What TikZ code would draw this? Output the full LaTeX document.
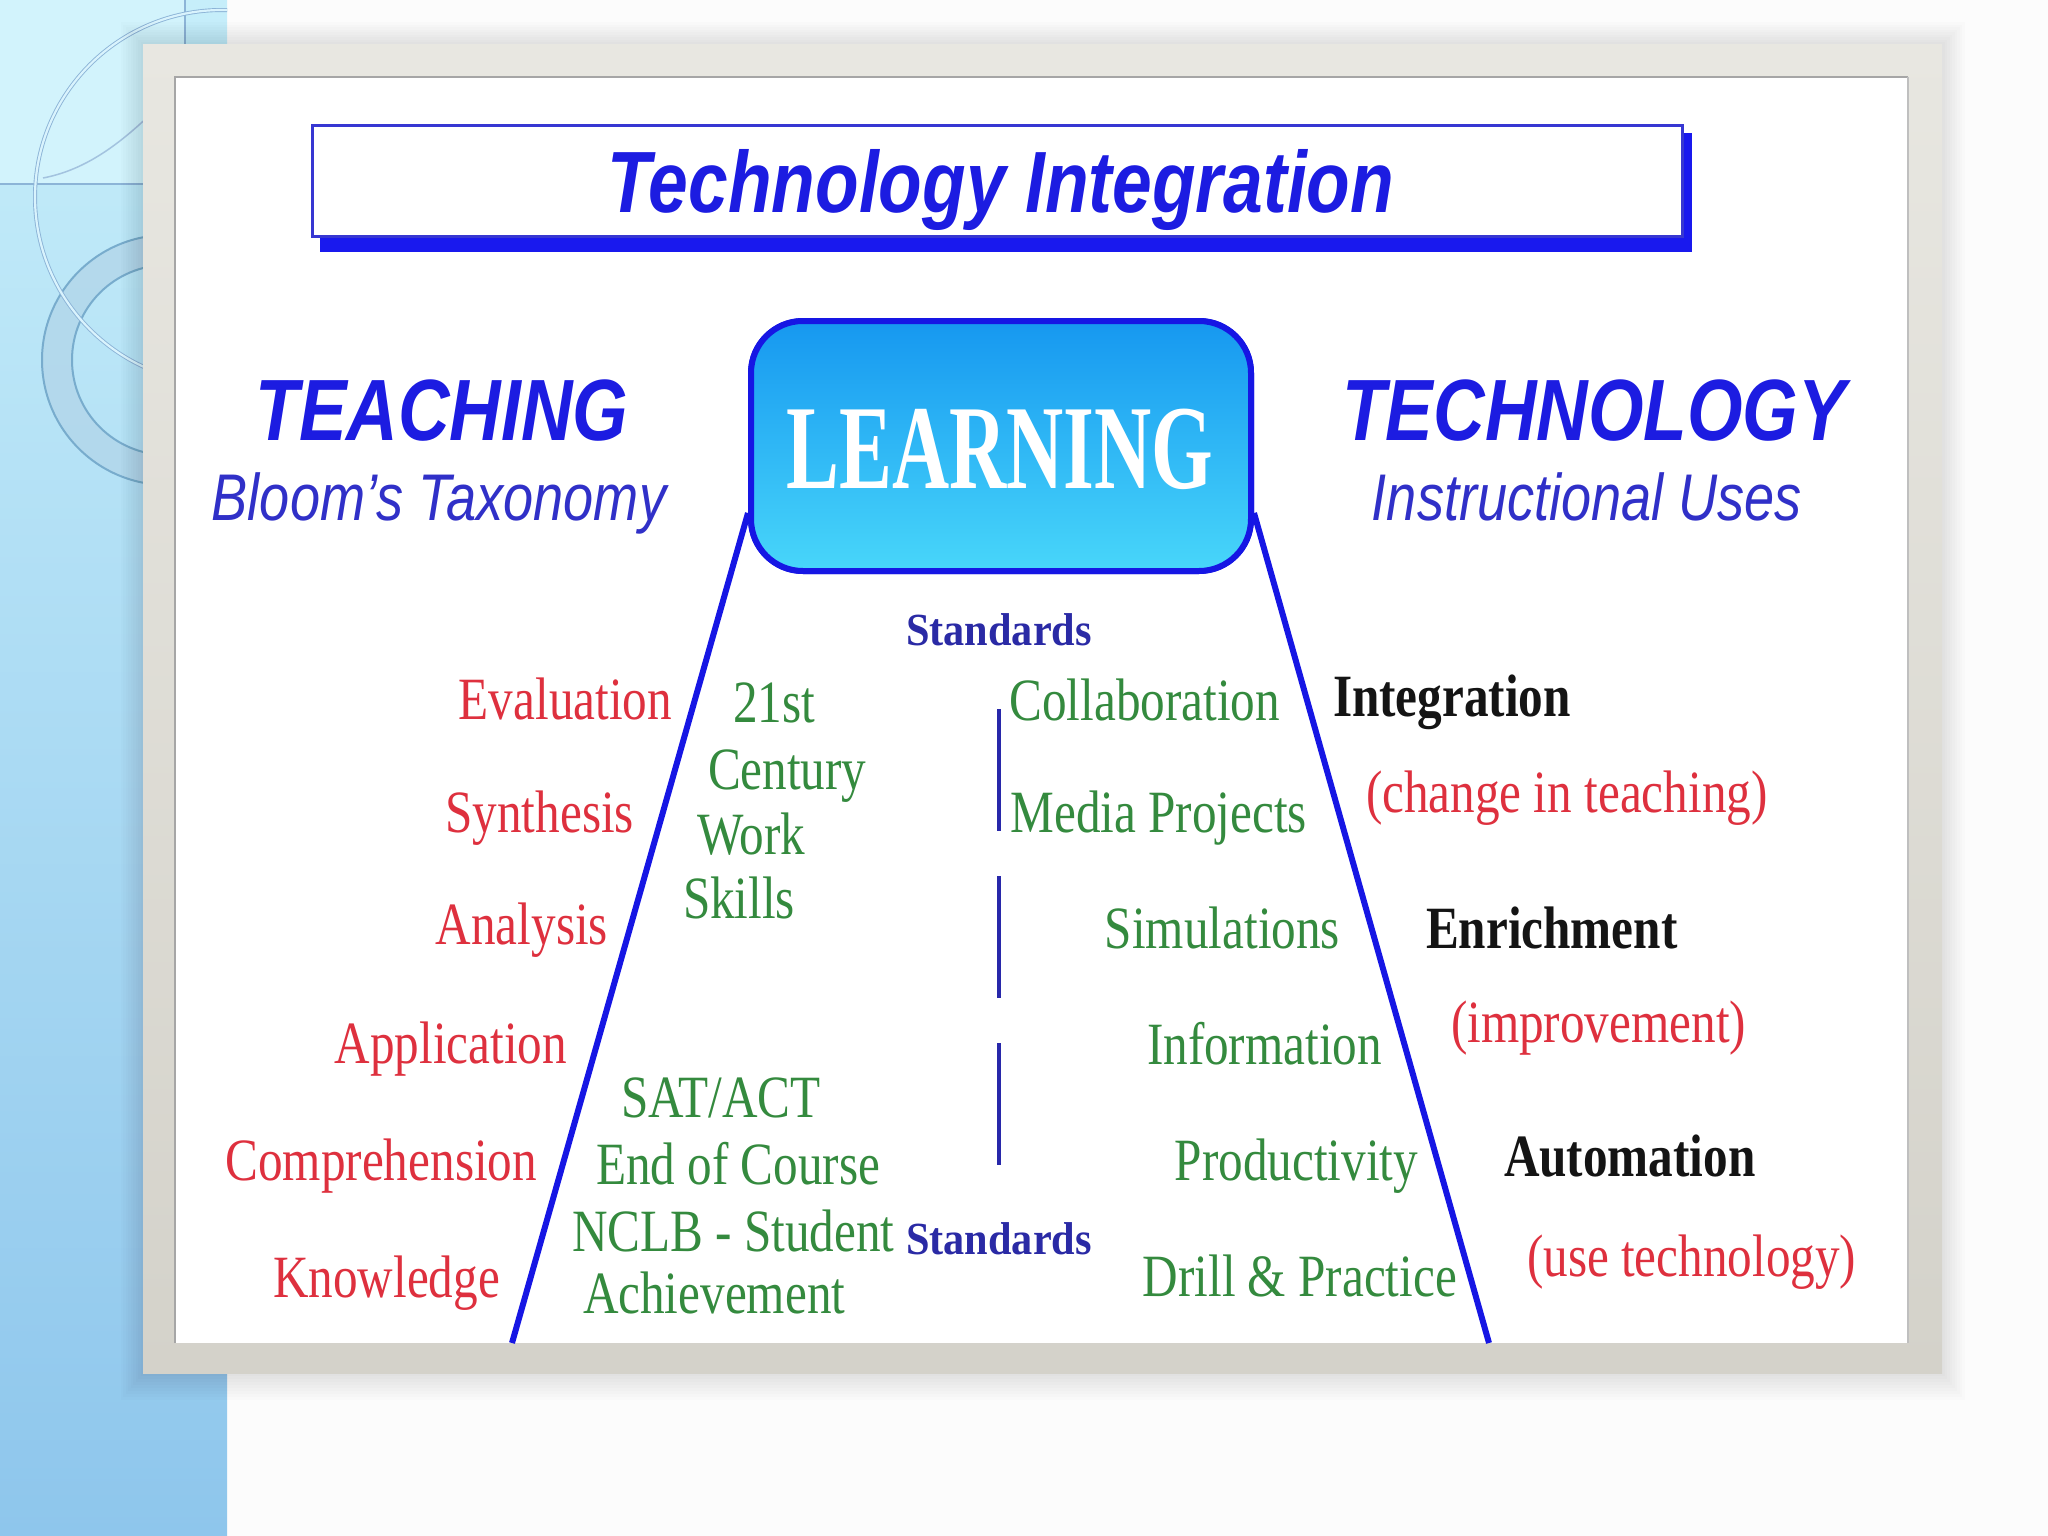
\documentclass[tikz,border=0pt]{standalone}
\usepackage{fontspec}
\setmainfont{Liberation Serif}
\newfontfamily\sansc[FakeStretch=0.82]{Liberation Sans}
\newfontfamily\serifc[FakeStretch=0.82]{Liberation Serif}
\newfontfamily\serifs[FakeStretch=0.92]{Liberation Serif}
\newfontfamily\serifl[FakeStretch=0.66]{Liberation Serif}
\usetikzlibrary{calc,shadings}
\definecolor{tred}{RGB}{222,48,62}
\definecolor{tgreen}{RGB}{52,138,62}
\definecolor{tblack}{RGB}{20,20,20}
\definecolor{lineblue}{RGB}{22,22,228}
\definecolor{headblue}{RGB}{28,28,225}
\definecolor{subblue}{RGB}{48,48,200}
\definecolor{stdblue}{RGB}{42,42,165}
\definecolor{dashblue}{RGB}{40,40,170}
\definecolor{boxtop}{RGB}{22,152,240}
\definecolor{boxbot}{RGB}{72,214,250}
\definecolor{frametop}{RGB}{232,231,225}
\definecolor{framebot}{RGB}{212,210,202}
\definecolor{stripTop}{RGB}{198,238,250}
\definecolor{stripMid}{RGB}{178,228,246}
\definecolor{stripBot}{RGB}{142,198,236}
\definecolor{ringfill}{RGB}{178,214,234}
\definecolor{ringedge}{RGB}{120,172,205}
\definecolor{rectfill}{RGB}{210,243,252}
\definecolor{rectedge}{RGB}{140,180,215}
\definecolor{titleline}{RGB}{55,55,210}
\definecolor{titleshadow}{RGB}{25,25,238}
\tikzset{
  txt/.style={inner sep=0pt, outer sep=0pt},
  redt/.style={txt, text=tred, font={\serifc\fontsize{60}{60}\selectfont}},
  greent/.style={txt, text=tgreen, font={\serifc\fontsize{60}{60}\selectfont}},
  blackt/.style={txt, text=tblack, font={\serifc\bfseries\fontsize{60}{60}\selectfont}},
  stdt/.style={txt, text=stdblue, font={\serifs\bfseries\fontsize{46}{46}\selectfont}},
  headt/.style={txt, text=headblue, font={\sansc\bfseries\itshape\fontsize{87}{87}\selectfont}},
  subt/.style={txt, text=subblue, font={\sansc\itshape\fontsize{66}{66}\selectfont}},
  titlet/.style={txt, text=headblue, font={\sansc\bfseries\itshape\fontsize{87}{87}\selectfont}},
  learnt/.style={txt, text=white, font={\serifl\bfseries\fontsize{120}{120}\selectfont}},
  trap/.style={draw=lineblue, line width=6pt},
  dashline/.style={draw=dashblue, line width=4.5pt, dash pattern=on 122pt off 45pt},
  learnbox/.style={draw=lineblue, line width=6pt, rounded corners=52pt, top color=boxtop,
      bottom color=boxbot, minimum width=500pt, minimum height=250pt, inner sep=0pt},
}
\begin{document}
\begin{tikzpicture}[x=1pt,y=-1pt]
\useasboundingbox (0,0) rectangle (2048,1536);
% page background
\fill[white!99!black] (0,0) rectangle (2048,1536);
% left decorative strip
\fill[top color=stripTop, middle color=stripMid, bottom color=stripBot] (0,0) rectangle (227,1536);
\begin{scope}
  \clip (0,0) rectangle (227,1536);
  \fill[rectfill, draw=rectedge, line width=1.5pt] (-5,-5) rectangle (185,184);
  \draw[rectedge!80, line width=1.5pt] (43,178) .. controls (85,170) and (120,145) .. (160,105);
  \fill[ringfill, opacity=0.8, even odd rule] (167,360) circle[radius=125] (167,360) circle[radius=95];
  \draw[ringedge, line width=2pt] (167,360) circle[radius=125];
  \draw[ringedge, line width=2pt] (167,360) circle[radius=95];
  \draw[rectedge, line width=4pt] (222,197) circle[radius=187];
  \draw[white!85!cyan, line width=2.2pt] (222,197) circle[radius=187];
\end{scope}
% frame shadow
\foreach \k in {1,...,9}
  \fill[black, opacity=0.01] (143-\k*2.5,45-\k*2.5) rectangle (1942+\k*2.5,1373+\k*3);
% frame
\fill[top color=frametop, bottom color=framebot] (143,45) rectangle (1942,1373);
\fill[white] (175,77) rectangle (1908,1343);
\draw[black!35, line width=2pt] (175,1343) -- (175,77) -- (1908,77);
\draw[black!25, line width=1.5pt] (1908,77) -- (1908,1343);
% title
\fill[titleshadow] (320,133) rectangle (1692,252);
\node[draw=titleline, line width=3pt, fill=white, minimum width=1370pt, minimum height=110pt, inner sep=0pt] (titlebox) at (997,181) {};
\node[titlet, anchor=base] (title) at (1001,212) {Technology Integration};
% headings
\node[headt, anchor=base] (teach) at (442,440) {TEACHING};
\node[subt, anchor=base] (bloom) at (439,520) {Bloom’s Taxonomy};
\node[headt, anchor=base] (tech) at (1594,440) {TECHNOLOGY};
\node[subt, anchor=base] (instr) at (1587,520) {Instructional Uses};
% learning box and trapezoid sides
\node[learnbox] (learn) at (1001,446) {};
\coordinate (lbot) at (512,1343);
\coordinate (rbot) at (1489,1343);
\draw[trap] ([yshift=-67pt]learn.west) -- (lbot);
\draw[trap] ([yshift=-67pt]learn.east) -- (rbot);
\node[learnbox] at (learn.center) {};
\node[learnt, anchor=base] (learntext) at (1000,488) {LEARNING};
% standards and dashed line
\node[stdt, anchor=base] (std1) at (999,645) {Standards};
\node[stdt, anchor=base] (std2) at (999,1254) {Standards};
\draw[dashline] (std1.south |- 0,709) -- (std2.north |- 0,1168);
% Bloom's levels
\node[redt, anchor=base east] (eval) at (672,719) {Evaluation};
\node[redt, anchor=base east] (synth) at (634,832) {Synthesis};
\node[redt, anchor=base east] (anal) at (608,944) {Analysis};
\node[redt, anchor=base east] (appl) at (567,1063) {Application};
\node[redt, anchor=base east] (comp) at (537,1180) {Comprehension};
\node[redt, anchor=base east] (know) at (500,1297) {Knowledge};
% middle-left green
\node[greent, anchor=base west] (c21) at (733,722) {21st};
\node[greent, anchor=base west] (cent) at (708,789) {Century};
\node[greent, anchor=base west] (work) at (697,854) {Work};
\node[greent, anchor=base west] (skills) at (683,918) {Skills};
\node[greent, anchor=base west] (sat) at (621,1117) {SAT/ACT};
\node[greent, anchor=base west] (eoc) at (596,1184) {End of Course};
\node[greent, anchor=base west] (nclb) at (572,1251) {NCLB - Student};
\node[greent, anchor=base west] (ach) at (583,1313) {Achievement};
% middle-right green
\node[greent, anchor=base east] (collab) at (1280,720) {Collaboration};
\node[greent, anchor=base east] (media) at (1307,832) {Media Projects};
\node[greent, anchor=base east] (sim) at (1340,948) {Simulations};
\node[greent, anchor=base east] (info) at (1382,1064) {Information};
\node[greent, anchor=base east] (prod) at (1418,1180) {Productivity};
\node[greent, anchor=base east] (drill) at (1457,1296) {Drill \& Practice};
% right levels
\node[blackt, anchor=base west] (integ) at (1333,716) {Integration};
\node[redt, anchor=base west] (change) at (1366,812) {(change in teaching)};
\node[blackt, anchor=base west] (enrich) at (1426,948) {Enrichment};
\node[redt, anchor=base west] (improve) at (1451,1042) {(improvement)};
\node[blackt, anchor=base west] (auto) at (1504,1176) {Automation};
\node[redt, anchor=base west] (usetech) at (1527,1276) {(use technology)};
\end{tikzpicture}
\end{document}
